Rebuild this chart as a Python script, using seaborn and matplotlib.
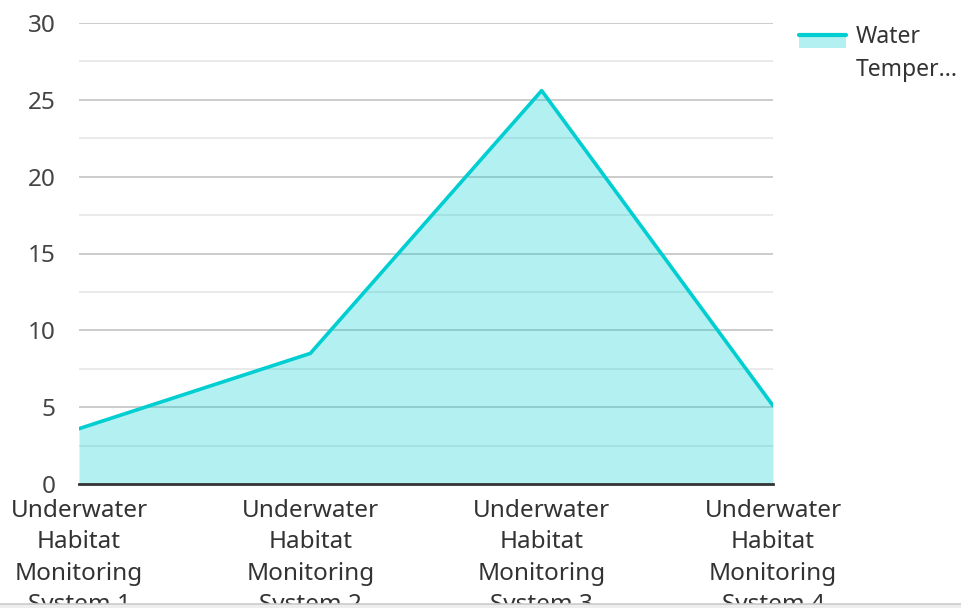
import matplotlib
matplotlib.use("Agg")
import matplotlib.pyplot as plt
import seaborn as sns
import pandas as pd
from matplotlib.patches import Rectangle
from matplotlib.lines import Line2D

# data
systems = ["Underwater\nHabitat\nMonitoring\nSystem 1",
           "Underwater\nHabitat\nMonitoring\nSystem 2",
           "Underwater\nHabitat\nMonitoring\nSystem 3",
           "Underwater\nHabitat\nMonitoring\nSystem 4"]
water_temp = [3.6, 8.5, 25.6, 5.1]
y_ticks = [0, 5, 10, 15, 20, 25, 30]
minor_ticks = [2.5, 7.5, 12.5, 17.5, 22.5, 27.5]

line_col = "#00CED1"
fill_col = "#B2F0F1"

sns.set_style("white")
plt.rcParams['font.family'] = ['Noto Sans', 'DejaVu Sans']

df = pd.DataFrame({"pos": range(len(systems)), "temp": water_temp})

fig = plt.figure(figsize=(9.62, 6.08), dpi=100)
ax = fig.add_axes([79 / 962, 1 - 484 / 608, (773 - 79) / 962, (484 - 23) / 608])

# major + minor grid
for v in y_ticks[1:]:
    ax.axhline(v, color="#c8c8c8", lw=1.3, zorder=0)
for v in minor_ticks:
    ax.axhline(v, color="#e8e8e8", lw=1.3, zorder=0)

ax.fill_between(df["pos"], df["temp"], 0, color=line_col, alpha=0.3, lw=0, zorder=2)
sns.lineplot(data=df, x="pos", y="temp", color=line_col, lw=2.6, ax=ax, zorder=3)

ax.set_xlim(0, 3)
ax.set_ylim(0, 30)
ax.set_yticks(y_ticks)
ax.set_yticklabels([str(t) for t in y_ticks], fontsize=17.5, color="#444444")
ax.set_xticks(df["pos"])
ax.set_xticklabels(systems, fontsize=17.5, color="#333333", linespacing=1.42)
ax.tick_params(axis="both", length=0)
ax.tick_params(axis="y", pad=17)
ax.tick_params(axis="x", pad=10.5)
ax.set_xlabel("")
ax.set_ylabel("")
for s in ["left", "right", "top"]:
    ax.spines[s].set_visible(False)
ax.spines["bottom"].set_color("#333333")
ax.spines["bottom"].set_linewidth(2)
ax.spines["bottom"].set_zorder(4)


class AreaHandler:
    def legend_artist(self, legend, orig_handle, fontsize, handlebox):
        x0, y0 = handlebox.xdescent, handlebox.ydescent
        w, h = handlebox.width, handlebox.height
        y0 = y0 + 11  # sit next to the first text line
        tr = handlebox.get_transform()
        patch = Rectangle((x0, y0), w, h, fc=fill_col, ec="none", transform=tr)
        line = Line2D([x0, x0 + w], [y0 + h, y0 + h], color=line_col, lw=3, transform=tr)
        handlebox.add_artist(patch)
        handlebox.add_artist(line)
        return patch


dummy = Rectangle((0, 0), 1, 1)
leg = fig.legend([dummy], ["Water\nTemper..."], handler_map={Rectangle: AreaHandler()},
                 loc="upper left", bbox_to_anchor=(778 / 962, 1 - 4 / 608),
                 frameon=False, handlelength=2.05, handleheight=0.5,
                 handletextpad=0.45, labelcolor="#333333",
                 prop={'family': ['Noto Sans', 'DejaVu Sans'], 'size': 16.5})
leg.get_texts()[0].set_linespacing(1.5)

# grey strip at the bottom edge of the frame
fig.add_artist(Rectangle((0, 0), 1, 4 / 608, transform=fig.transFigure,
                         fc="#eeeeee", ec="none", zorder=10))
fig.add_artist(Line2D([0, 1], [4 / 608, 4 / 608], transform=fig.transFigure,
                      color="#cccccc", lw=1.2, zorder=11))

fig.savefig("out.png", dpi=100)
